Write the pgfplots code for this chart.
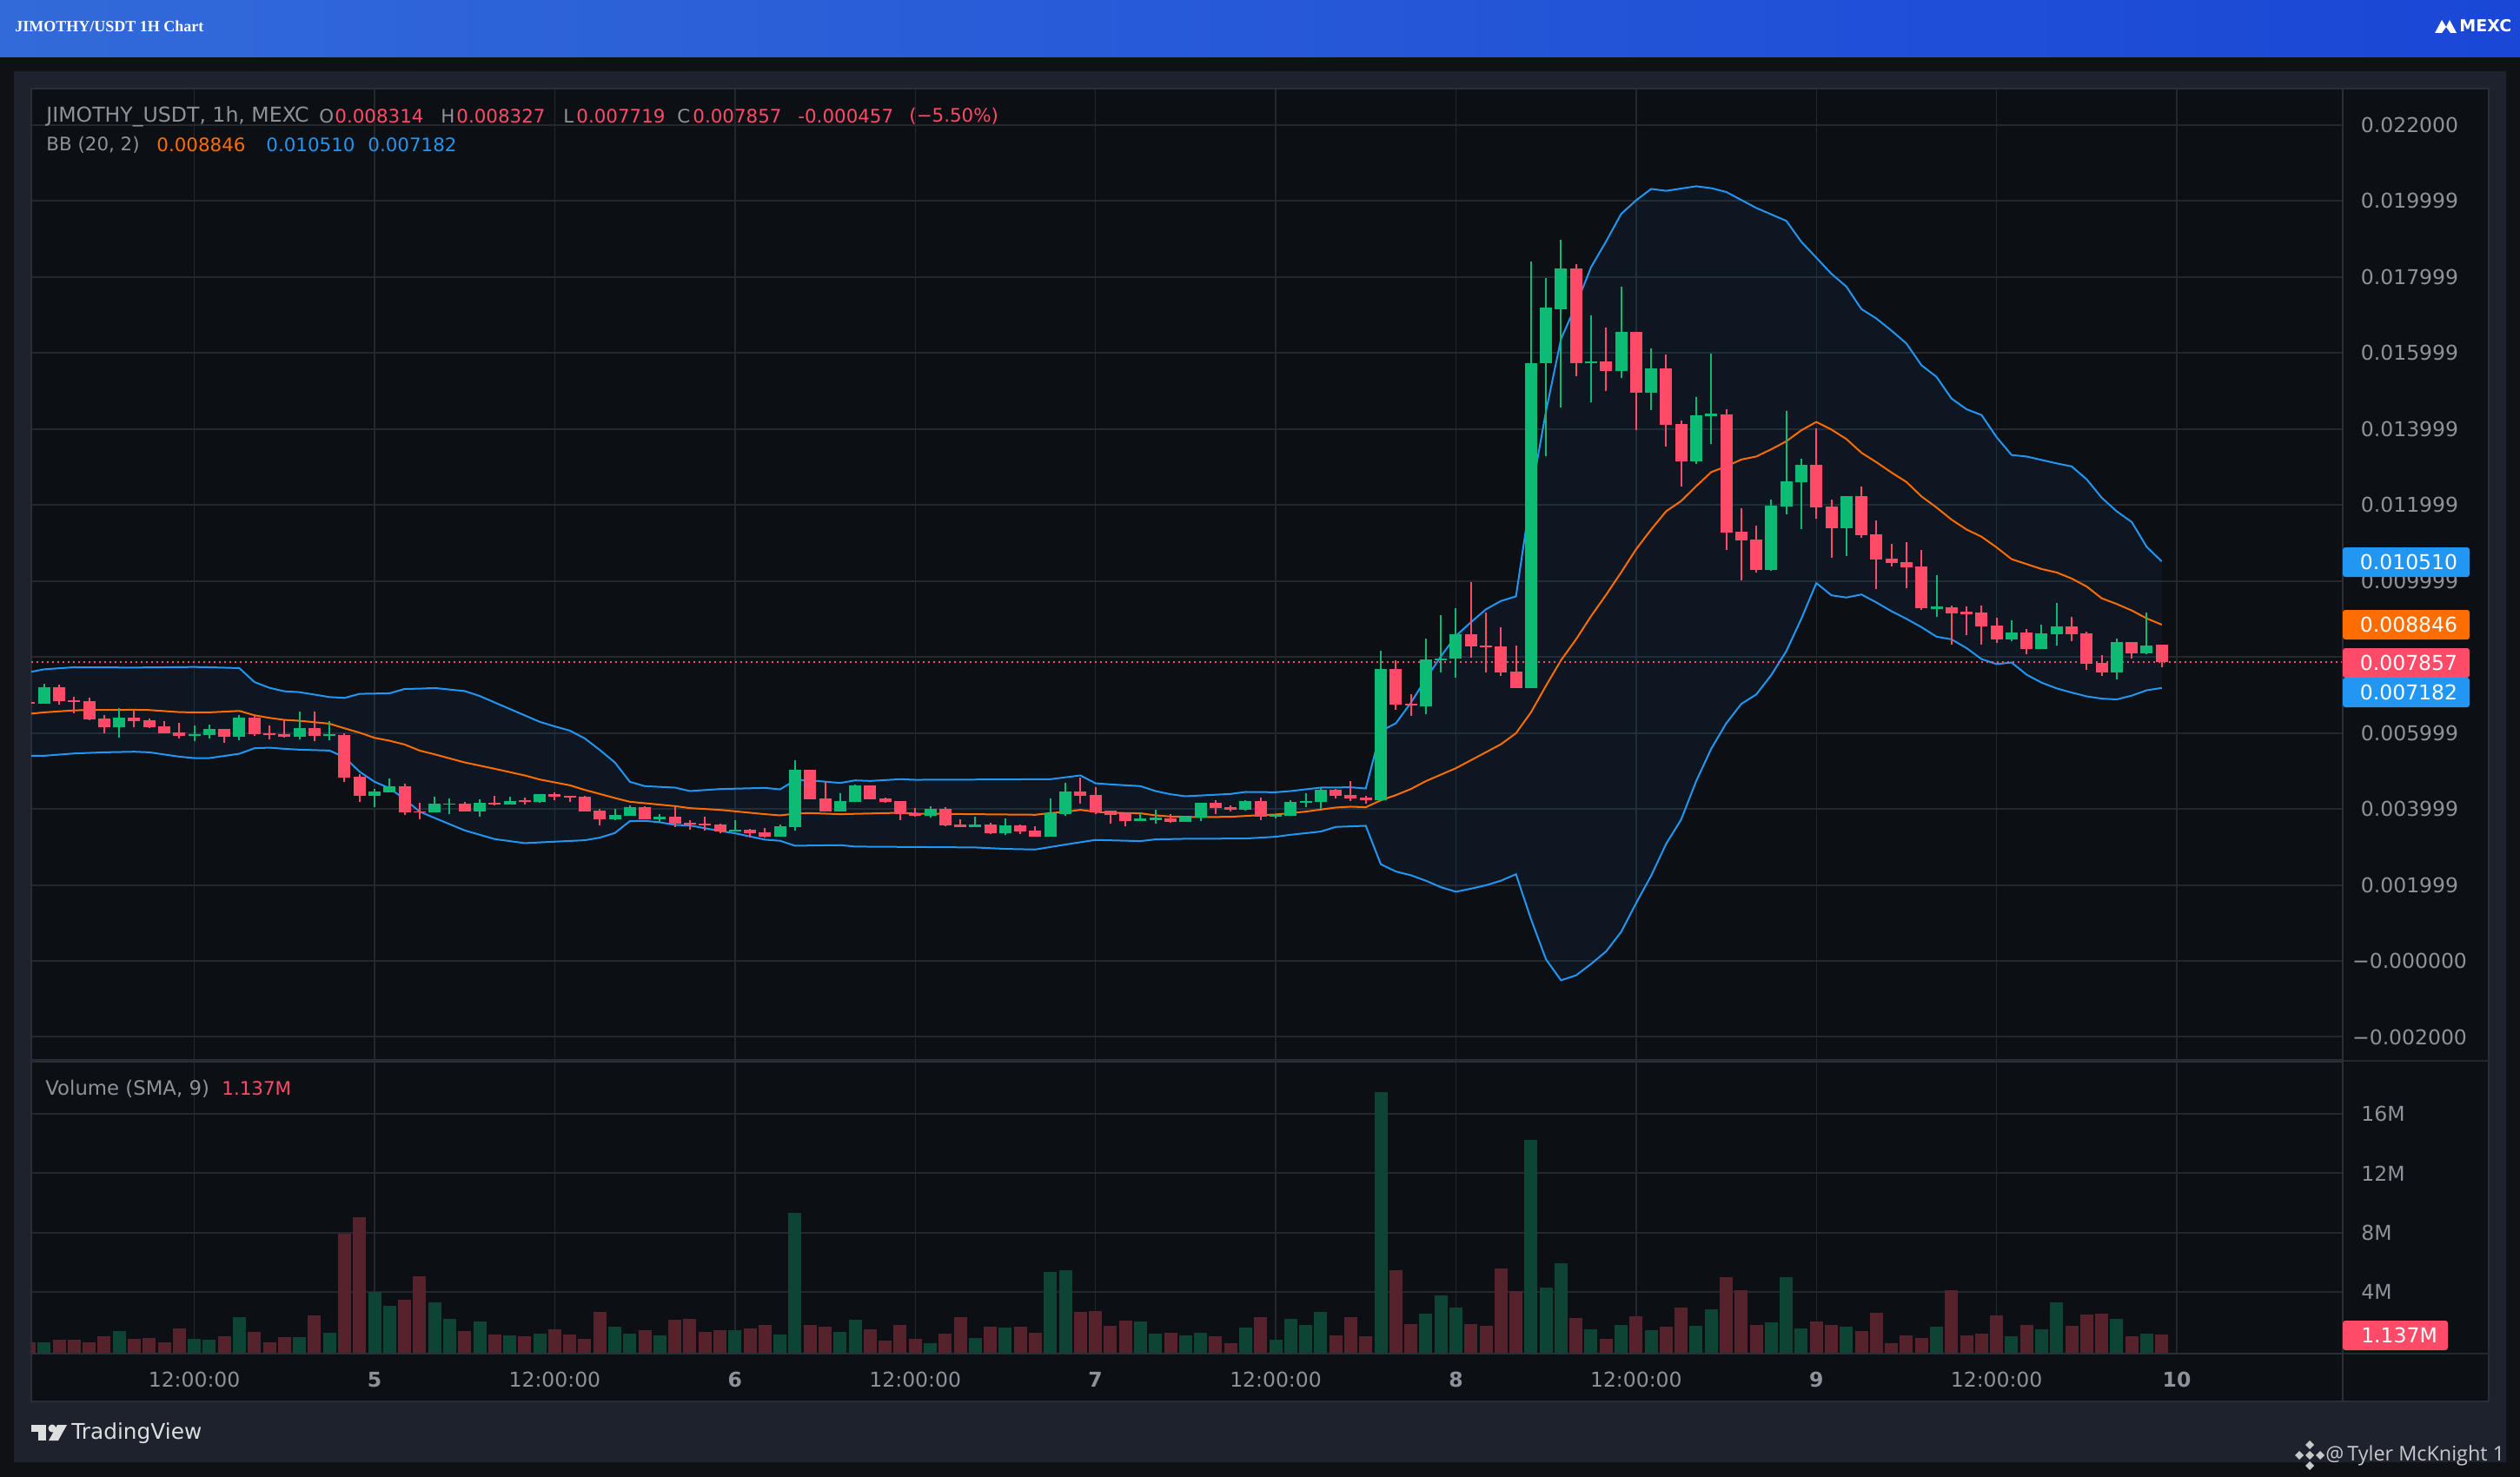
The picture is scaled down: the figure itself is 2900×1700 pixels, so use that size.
\documentclass[border=0pt]{standalone}
\usepackage{fontspec}
\usepackage{pgfplots}
\usepackage{pgfplotstable}
\pgfplotsset{compat=1.18}
\usepgfplotslibrary{fillbetween}
\setmainfont{DejaVu Sans}
\newfontfamily\titlefont{Liberation Serif}
\newfontfamily\wmfont{Open Sans}
\definecolor{pagebg}{HTML}{0F1114}
\definecolor{panelbg}{HTML}{1E222D}
\definecolor{chartbg}{HTML}{0C0F14}
\definecolor{gridc}{HTML}{24272E}
\definecolor{sepc}{HTML}{2A2E39}
\definecolor{txt}{HTML}{8F929A}
\definecolor{upc}{HTML}{0DBB74}
\definecolor{downc}{HTML}{FF4A68}
\definecolor{upv}{HTML}{0E4433}
\definecolor{downv}{HTML}{56222C}
\definecolor{bbblue}{HTML}{2196F3}
\definecolor{bborange}{HTML}{FF6D00}
\definecolor{HeaderL}{HTML}{326AD9}
\definecolor{HeaderR}{HTML}{1A47D6}

% h = hours after the start of day 5; open high low close (USDT); volume (millions)
\pgfplotstableread{
h open high low close vol
-22 0.006767 0.007292 0.006767 0.007201 0.60
-17 0.006150 0.006653 0.005877 0.006402 1.37
-12 0.005922 0.006196 0.005785 0.005968 0.84
-11 0.005945 0.006219 0.005854 0.006105 0.78
-9 0.005899 0.006470 0.005808 0.006402 2.30
-5 0.005899 0.006561 0.005831 0.006128 0.96
-3 0.005922 0.006310 0.005808 0.005968 1.25
0 0.004347 0.004530 0.004050 0.004461 4.00
1 0.004438 0.004804 0.004438 0.004598 3.06
4 0.003913 0.004324 0.003913 0.004141 3.30
5 0.004119 0.004279 0.003867 0.004141 2.19
7 0.003936 0.004256 0.003799 0.004164 2.01
9 0.004119 0.004324 0.004119 0.004210 1.07
11 0.004187 0.004393 0.004164 0.004393 1.19
16 0.003730 0.004004 0.003708 0.003845 1.66
17 0.003822 0.004096 0.003822 0.004050 1.19
19 0.003730 0.003867 0.003639 0.003799 1.07
24 0.003411 0.003708 0.003411 0.003456 1.43
27 0.003274 0.003593 0.003274 0.003548 1.13
28 0.003525 0.005283 0.003434 0.005032 9.33
31 0.003936 0.004415 0.003936 0.004210 1.31
32 0.004187 0.004644 0.004187 0.004621 2.13
37 0.003822 0.004073 0.003776 0.004004 0.55
40 0.003525 0.003799 0.003525 0.003593 0.90
42 0.003365 0.003753 0.003319 0.003571 1.60
45 0.003274 0.004279 0.003274 0.003890 5.35
46 0.003867 0.004689 0.003822 0.004461 5.46
51 0.003685 0.003913 0.003685 0.003753 2.01
52 0.003708 0.003982 0.003616 0.003776 1.19
54 0.003662 0.003822 0.003662 0.003799 1.07
55 0.003776 0.004164 0.003685 0.004164 1.25
58 0.003982 0.004233 0.003959 0.004210 1.60
60 0.003799 0.003845 0.003753 0.003845 0.78
61 0.003822 0.004233 0.003822 0.004187 2.19
62 0.004164 0.004415 0.004050 0.004210 1.78
63 0.004187 0.004575 0.004004 0.004507 2.66
67 0.004233 0.008162 0.004233 0.007675 17.50
70 0.006701 0.008479 0.006500 0.007929 2.54
71 0.007911 0.009093 0.007586 0.007965 3.77
72 0.007956 0.009273 0.007451 0.008597 2.95
77 0.007180 0.018407 0.007180 0.015735 14.27
78 0.015717 0.017973 0.013271 0.017179 4.29
79 0.017152 0.018975 0.014553 0.018226 5.93
81 0.015717 0.016972 0.014706 0.015762 1.48
83 0.015510 0.017748 0.015329 0.016539 1.78
85 0.014959 0.016123 0.014481 0.015600 1.43
88 0.013154 0.014824 0.013064 0.014363 1.72
89 0.014331 0.015968 0.013593 0.014392 2.83
93 0.010283 0.012132 0.010260 0.011972 1.95
94 0.011949 0.014461 0.011744 0.012612 5.00
95 0.012589 0.013205 0.011356 0.013045 1.54
98 0.011379 0.012223 0.010648 0.012223 1.66
104 0.009256 0.010146 0.009051 0.009325 1.66
109 0.008457 0.008959 0.008411 0.008640 1.01
111 0.008206 0.008845 0.008206 0.008617 1.48
112 0.008594 0.009416 0.008297 0.008799 3.30
116 0.007589 0.008480 0.007407 0.008388 2.19
118 0.008092 0.009165 0.008069 0.008297 1.19
}\upT

\pgfplotstableread{
h open high low close vol
-23 0.006805 0.006805 0.006759 0.006759 0.60
-21 0.007201 0.007269 0.006744 0.006835 0.78
-20 0.006858 0.006950 0.006516 0.006813 0.78
-19 0.006835 0.006927 0.006333 0.006356 0.60
-18 0.006379 0.006470 0.005991 0.006150 1.01
-16 0.006402 0.006607 0.006150 0.006310 0.84
-15 0.006333 0.006379 0.006128 0.006150 0.90
-14 0.006173 0.006310 0.005991 0.005991 0.60
-13 0.006013 0.006265 0.005854 0.005922 1.54
-10 0.006105 0.006105 0.005740 0.005899 1.01
-8 0.006402 0.006470 0.005922 0.005968 1.31
-7 0.005991 0.006196 0.005831 0.005945 0.60
-6 0.005968 0.006333 0.005877 0.005899 0.96
-4 0.006128 0.006561 0.005785 0.005922 2.42
-2 0.005945 0.005991 0.004712 0.004826 7.92
-1 0.004849 0.004918 0.004187 0.004347 9.03
2 0.004598 0.004667 0.003845 0.003913 3.47
3 0.003936 0.004164 0.003730 0.003913 5.05
6 0.004141 0.004187 0.003936 0.003936 1.37
8 0.004164 0.004347 0.004096 0.004119 1.13
10 0.004233 0.004301 0.004119 0.004187 1.01
12 0.004393 0.004438 0.004233 0.004324 1.48
13 0.004347 0.004347 0.004187 0.004301 1.13
14 0.004324 0.004347 0.003936 0.003936 0.84
15 0.003959 0.004004 0.003571 0.003730 2.66
18 0.004050 0.004073 0.003730 0.003730 1.43
20 0.003799 0.004050 0.003525 0.003616 2.13
21 0.003639 0.003708 0.003456 0.003593 2.19
22 0.003616 0.003799 0.003434 0.003571 1.31
23 0.003593 0.003616 0.003365 0.003411 1.43
25 0.003456 0.003479 0.003251 0.003365 1.54
26 0.003388 0.003502 0.003251 0.003274 1.78
29 0.005032 0.005032 0.004256 0.004256 1.78
30 0.004279 0.004735 0.003936 0.003936 1.66
33 0.004621 0.004621 0.004256 0.004256 1.48
34 0.004279 0.004301 0.004164 0.004187 0.72
35 0.004210 0.004210 0.003708 0.003867 1.78
36 0.003890 0.004027 0.003799 0.003822 0.84
38 0.004004 0.004050 0.003548 0.003571 1.19
39 0.003593 0.003730 0.003525 0.003525 2.30
41 0.003593 0.003639 0.003342 0.003365 1.66
43 0.003571 0.003593 0.003342 0.003411 1.66
44 0.003434 0.003548 0.003274 0.003274 1.25
47 0.004461 0.004826 0.004141 0.004347 2.66
48 0.004370 0.004575 0.003867 0.003913 2.71
49 0.003959 0.003959 0.003616 0.003845 1.72
50 0.003890 0.003890 0.003548 0.003685 2.07
53 0.003753 0.003867 0.003639 0.003662 1.25
56 0.004164 0.004233 0.003867 0.004027 1.01
57 0.004050 0.004096 0.003936 0.003982 0.55
59 0.004210 0.004301 0.003708 0.003799 2.30
64 0.004507 0.004530 0.004279 0.004347 1.07
65 0.004370 0.004735 0.004210 0.004279 2.30
66 0.004301 0.004347 0.004141 0.004233 1.01
68 0.007676 0.007911 0.006611 0.006746 5.46
69 0.006773 0.007017 0.006450 0.006719 1.84
73 0.008597 0.009959 0.007974 0.008272 1.84
74 0.008299 0.009165 0.007586 0.008245 1.72
75 0.008272 0.008777 0.007496 0.007586 5.58
76 0.007613 0.008299 0.007180 0.007180 4.06
80 0.018226 0.018343 0.015374 0.015717 2.25
82 0.015762 0.016674 0.014986 0.015510 0.84
84 0.016539 0.016539 0.013957 0.014959 2.36
86 0.015600 0.015961 0.013542 0.014093 1.66
87 0.014120 0.014210 0.012477 0.013154 2.95
90 0.014369 0.014506 0.010808 0.011265 5.00
91 0.011287 0.011904 0.010009 0.011059 4.12
92 0.011082 0.011447 0.010214 0.010283 1.78
96 0.013045 0.014004 0.011630 0.011927 2.01
97 0.011949 0.012132 0.010602 0.011379 1.78
99 0.012223 0.012475 0.011128 0.011196 1.37
100 0.011219 0.011584 0.009781 0.010557 2.60
101 0.010580 0.010968 0.010374 0.010465 0.55
102 0.010488 0.011013 0.009803 0.010351 1.07
103 0.010375 0.010808 0.009233 0.009279 0.90
105 0.009302 0.009347 0.008320 0.009142 4.12
106 0.009188 0.009325 0.008571 0.009119 1.07
107 0.009165 0.009347 0.008320 0.008799 1.19
108 0.008822 0.009028 0.008366 0.008457 2.42
110 0.008640 0.008731 0.008069 0.008206 1.78
113 0.008799 0.009051 0.008411 0.008594 1.72
114 0.008617 0.008662 0.007658 0.007818 2.48
115 0.007840 0.008046 0.007498 0.007589 2.54
117 0.008388 0.008388 0.007955 0.008092 1.01
119 0.008314 0.008327 0.007719 0.007857 1.137
}\downT

\pgfplotstableread{
h v
-23 0.007596
-22 0.007672
-20 0.007726
-16 0.007718
-12 0.007733
-11 0.007726
-9 0.007703
-8 0.007338
-7 0.007185
-6 0.007094
-5 0.007071
-3 0.006942
-2 0.006919
-1 0.007026
1 0.007041
2 0.007155
3 0.007163
4 0.00718
5 0.00714
6 0.00710
7 0.00697
8 0.00680
9 0.00663
10 0.00646
11 0.00629
12 0.00617
13 0.00606
14 0.005854
15 0.005549
16 0.005222
17 0.004712
18 0.004598
20 0.004560
21 0.004469
23 0.004522
26 0.004552
27 0.004514
28 0.004750
29 0.004750
31 0.004682
32 0.004750
33 0.004735
35 0.004781
36 0.004765
41 0.004773
45 0.004781
47 0.004880
48 0.004674
49 0.004644
51 0.004598
52 0.004469
53 0.004385
54 0.004332
57 0.004393
58 0.004446
60 0.004438
61 0.004469
63 0.004560
65 0.004568
66 0.004537
67 0.00605
68 0.00625
69 0.00679
70 0.00742
71 0.00801
72 0.00855
73 0.00891
74 0.00925
75 0.00947
76 0.00959
77 0.01225
78 0.01446
79 0.01636
80 0.01726
81 0.01825
82 0.01893
83 0.01965
84 0.02001
85 0.02031
86 0.02026
87 0.02032
88 0.02038
89 0.02033
90 0.02023
91 0.02002
92 0.01981
93 0.01964
94 0.01947
95 0.01892
96 0.01850
97 0.01808
98 0.01774
99 0.01715
100 0.01690
101 0.016584
102 0.016242
103 0.015671
104 0.015366
105 0.014796
106 0.014514
107 0.014362
108 0.01378
109 0.01331
110 0.01327
111 0.01318
112 0.01309
113 0.01301
114 0.01267
115 0.012186
116 0.011828
117 0.011547
118 0.010892
119 0.010510
}\upperT

\pgfplotstableread{
h v
-23 0.006501
-22 0.006539
-20 0.006592
-19 0.006600
-16 0.006607
-15 0.006600
-13 0.006546
-12 0.006539
-11 0.006539
-9 0.006577
-8 0.006463
-7 0.006394
-6 0.006341
-5 0.006318
-3 0.006242
-2 0.006120
-1 0.006006
0 0.005869
1 0.005793
2 0.005694
3 0.005534
4 0.005435
6 0.005222
8 0.005055
10 0.004880
11 0.004773
13 0.004621
14 0.004499
15 0.004393
16 0.004286
17 0.004187
18 0.004149
20 0.004073
21 0.004020
23 0.003974
24 0.003936
26 0.003860
27 0.003829
28 0.003875
29 0.003890
31 0.003860
35 0.003898
36 0.003875
42 0.003852
44 0.003845
45 0.003890
46 0.003921
47 0.003974
48 0.003921
49 0.003898
51 0.003883
52 0.003829
53 0.003799
55 0.003784
57 0.003791
59 0.003837
60 0.003852
61 0.003890
62 0.003928
63 0.003982
64 0.004035
65 0.004058
66 0.004043
67 0.004225
68 0.004362
69 0.004522
70 0.00473
71 0.00490
72 0.00507
73 0.00528
74 0.00549
75 0.00570
76 0.00599
77 0.00654
78 0.00724
79 0.00791
80 0.00846
81 0.00907
82 0.00963
83 0.01022
84 0.01083
85 0.01135
86 0.01183
87 0.01210
88 0.01249
89 0.01286
90 0.01301
91 0.01319
92 0.01327
93 0.01346
94 0.01367
95 0.01396
96 0.01418
97 0.01398
98 0.01373
99 0.01337
100 0.01312
101 0.01285
102 0.01260
103 0.01222
104 0.01193
105 0.01161
106 0.01135
107 0.01116
108 0.01088
109 0.01057
110 0.01044
111 0.01031
112 0.01022
113 0.01006
114 0.00985
115 0.00954
116 0.00939
117 0.00922
118 0.00901
119 0.008846
}\middleT

\pgfplotstableread{
h v
-23 0.005397
-22 0.005397
-20 0.005458
-18 0.005488
-16 0.005504
-15 0.005488
-13 0.005374
-12 0.005336
-11 0.005336
-9 0.005450
-8 0.005595
-7 0.005610
-6 0.005580
-5 0.005557
-3 0.005534
-2 0.005359
-1 0.004979
0 0.004712
1 0.004545
2 0.004256
3 0.003928
4 0.003761
6 0.003434
8 0.003205
10 0.003099
12 0.003137
14 0.003175
15 0.003243
16 0.003365
17 0.003677
18 0.003685
19 0.003647
20 0.003578
21 0.003563
23 0.003418
24 0.003358
26 0.003190
27 0.003160
28 0.003030
31 0.003046
32 0.003008
40 0.002985
42 0.002947
44 0.002931
46 0.003061
48 0.003183
51 0.003152
52 0.003198
53 0.003205
54 0.003213
58 0.003220
60 0.003266
61 0.003319
63 0.003403
64 0.003525
66 0.003555
67 0.002543
68 0.002353
69 0.002254
70 0.00211
71 0.00194
72 0.00182
73 0.00190
74 0.00199
75 0.00211
76 0.00228
77 0.00110
78 0.00004
79 -0.00051
80 -0.00038
81 -0.00008
82 0.00025
83 0.00076
84 0.00152
85 0.00224
86 0.00308
87 0.00372
88 0.00473
89 0.00558
90 0.00625
91 0.00676
92 0.00701
93 0.00752
94 0.00815
95 0.00900
96 0.00994
97 0.00962
98 0.00956
99 0.00964
100 0.00943
101 0.00920
102 0.00900
103 0.00878
104 0.00853
105 0.00846
106 0.00823
107 0.00794
108 0.00781
109 0.00785
110 0.00753
111 0.00732
112 0.00717
113 0.00706
114 0.00696
115 0.00690
116 0.00688
117 0.00698
118 0.00712
119 0.007182
}\lowerT

\pgfplotsset{
  paneaxis/.style={
    scale only axis, anchor=south west,
    xmin=-22.855, xmax=131.05,
    xtick={-12,0,12,24,36,48,60,72,84,96,108,120},
    xmajorgrids, ymajorgrids,
    x grid style={gridc,line width=0.7pt},
    y grid style={gridc,line width=1pt},
    major tick length=0pt,
    axis line style={sepc,line width=1pt},
    ytick pos=right, yticklabel pos=right,
    scaled y ticks=false,
    tick label style={font=\fontsize{11.75}{14}\selectfont,text=txt,inner sep=0pt},
  },
  barcol/.style n args={2}{draw=none,mark=none,forget plot,
    error bars/.cd,y dir=plus,y explicit,error mark=none,
    error bar style={draw=#1,line width=#2,line cap=butt}},
  volcol/.style={draw=none,mark=none,forget plot,
    error bars/.cd,y dir=minus,y explicit,error mark=none,
    error bar style={draw=#1,line width=7.5pt,line cap=butt}},
}

\newcommand{\txtat}[4]{\node[anchor=west,inner sep=0pt,text=#3,font=\fontsize{10.7}{13}\selectfont] at (#1,#2) {#4};}
\newcommand{\pricetag}[3]{\fill[#2,rounded corners=1.5pt] (2696,#1-17) rectangle (2842,#1+17);
  \node[text=white,inner sep=0pt,font=\fontsize{11.75}{14}\selectfont] at (2772,#1) {#3};}

\begin{document}
\begin{tikzpicture}[x=0.5pt,y=-0.5pt]
% the backgrounds leave a hole over the price pane: its grid and band fill lie on lower layers
\fill[pagebg,even odd rule] (0,0) rectangle (2900,1700) (36,102) rectangle (2696,1220);
\shade[left color=HeaderL,right color=HeaderR] (0,0) rectangle (2900,66);
\node[anchor=west,inner sep=0pt,text=white,font=\titlefont\bfseries\fontsize{9}{12}\selectfont] at (17,30) {JIMOTHY/USDT 1H Chart};
% MEXC logo
\fill[white] (2802,38) -- (2810,23) -- (2815,31) -- (2819,23) -- (2827,38) -- (2820,38) -- (2815,31) -- (2810,38) -- cycle;
\node[anchor=west,inner sep=0pt,text=white,font=\fontsize{9.5}{12}\selectfont\bfseries] at (2830,30) {MEXC};
\fill[panelbg,even odd rule] (16,82) rectangle (2884,1683) (36,102) rectangle (2696,1220);
\fill[chartbg,even odd rule] (36,102) rectangle (2864,1613) (36,102) rectangle (2696,1220);
\draw[sepc,line width=1pt] (36,102) rectangle (2864,1613);
\draw[gridc,line width=0.8pt] (2696,1558) -- (2696,1613);
\draw[gridc,line width=1pt] (36,1558) -- (2864,1558);
\draw[gridc,line width=1pt] (36,1221) -- (2864,1221);

% price pane
\begin{axis}[paneaxis,
  at={(18pt,-610pt)}, width=1330pt, height=559pt,
  axis background/.style={fill=chartbg},
  ymin=-0.002606, ymax=0.022949,
  xticklabels={},
  ytick={-0.002,0,0.002,0.004,0.006,0.008,0.01,0.012,0.014,0.016,0.018,0.02,0.022},
  yticklabels={−0.002000,−0.000000,0.001999,0.003999,0.005999,,0.009999,0.011999,0.013999,0.015999,0.017999,0.019999,0.022000},
  yticklabel style={anchor=center,xshift=38.5pt},
]
\addplot[name path=upper,bbblue,line width=1pt,forget plot] table[x=h,y=v] {\upperT};
\addplot[name path=lower,bbblue,line width=1pt,forget plot] table[x=h,y=v] {\lowerT};
\addplot[bbblue,fill opacity=0.06,forget plot] fill between[of=upper and lower];
\addplot[bborange,line width=1pt,forget plot] table[x=h,y=v] {\middleT};
\addplot[downc,line width=1pt,dash pattern=on 1.1pt off 1.9pt,forget plot] coordinates {(-22.855,0.007857) (131.05,0.007857)};
% wicks
\addplot[barcol={upc}{1pt}] table[x=h,y=low,y error plus expr=\thisrow{high}-\thisrow{low}] {\upT};
\addplot[barcol={downc}{1pt}] table[x=h,y=low,y error plus expr=\thisrow{high}-\thisrow{low}] {\downT};
% bodies
\addplot[barcol={upc}{7pt}] table[x=h,y=open,y error plus expr=\thisrow{close}-\thisrow{open}] {\upT};
\addplot[barcol={downc}{7pt}] table[x=h,y=close,y error plus expr=\thisrow{open}-\thisrow{close}] {\downT};
\end{axis}

% volume pane
\begin{axis}[paneaxis,
  at={(18pt,-779pt)}, width=1330pt, height=168pt,
  ymin=-0.158, ymax=19.52,
  xticklabels={12:00:00,\textbf{5},12:00:00,\textbf{6},12:00:00,\textbf{7},12:00:00,\textbf{8},12:00:00,\textbf{9},12:00:00,\textbf{10}},
  xticklabel style={anchor=center,yshift=-15pt},
  ytick={4,8,12,16},
  yticklabels={4M,8M,12M,16M},
  yticklabel style={anchor=west,xshift=10.5pt},
]
\addplot[volcol=upv] table[x=h,y=vol,y error minus expr=\thisrow{vol}+0.1] {\upT};
\addplot[volcol=downv] table[x=h,y=vol,y error minus expr=\thisrow{vol}+0.1] {\downT};
\end{axis}

\draw[sepc,line width=1pt] (2696,102) -- (2696,1613);

% legends
\node[anchor=west,inner sep=0pt,text=txt,font=\fontsize{11.8}{13}\selectfont] at (53,134) {JIMOTHY\_USDT, 1h, MEXC};
\txtat{367}{134}{txt}{O}
\txtat{385}{134}{downc}{0.008314}
\txtat{507}{134}{txt}{H}
\txtat{525}{134}{downc}{0.008327}
\txtat{648}{134}{txt}{L}
\txtat{663}{134}{downc}{0.007719}
\txtat{779}{134}{txt}{C}
\txtat{797}{134}{downc}{0.007857}
\txtat{918}{134}{downc}{-0.000457}
\txtat{1046}{134}{downc}{(−5.50\%)}
\txtat{53}{167}{txt}{BB (20, 2)}
\txtat{180}{167}{bborange}{0.008846}
\txtat{306}{167}{bbblue}{0.010510}
\txtat{423}{167}{bbblue}{0.007182}
\node[anchor=west,inner sep=0pt,text=txt,font=\fontsize{11.4}{13}\selectfont] at (52,1253) {Volume (SMA, 9)};
\txtat{255}{1253}{downc}{1.137M}

% price tags
\pricetag{647}{bbblue}{0.010510}
\pricetag{719}{bborange}{0.008846}
\pricetag{763}{downc}{0.007857}
\pricetag{797}{bbblue}{0.007182}
\fill[downc,rounded corners=1.5pt] (2696,1520) rectangle (2817,1554);
\node[text=white,inner sep=0pt,font=\fontsize{11.75}{14}\selectfont] at (2761,1537) {1.137M};

% TradingView mark
\fill[white!85!panelbg] (36,1640) rectangle (53,1648);
\fill[white!85!panelbg] (44,1640) rectangle (53,1658);
\fill[white!85!panelbg] (60,1644) circle (4.5);
\fill[white!85!panelbg] (66,1640) -- (77,1640) -- (67,1658) -- (56,1658) -- cycle;
\node[anchor=west,inner sep=0pt,text=white!85!panelbg,font=\fontsize{12.4}{16}\selectfont] at (82,1650) {TradingView};
% watermark
\foreach \a/\b in {2658/1675,2646/1675,2670/1675,2658/1663,2658/1687}{
  \fill[white!75!panelbg] (\a-5,\b) -- (\a,\b-5) -- (\a+5,\b) -- (\a,\b+5) -- cycle;}
\node[anchor=west,inner sep=0pt,text=white!75!panelbg,font=\wmfont\fontsize{11.7}{16}\selectfont] at (2676,1675) {@\,Tyler McKnight 1};
\end{tikzpicture}
\end{document}
